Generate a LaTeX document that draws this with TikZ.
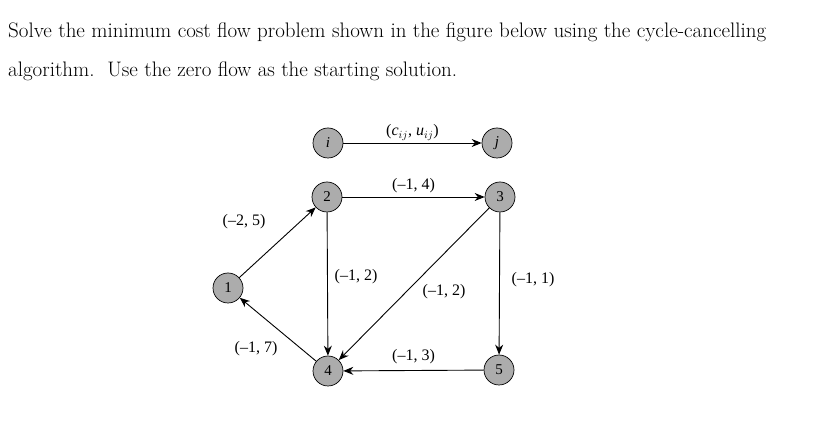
\documentclass[tikz,border=0pt]{standalone}
\usepackage{fontspec}
\newfontfamily\lab{Liberation Serif}
\usetikzlibrary{arrows.meta}
\begin{document}
\begin{tikzpicture}[x=1pt,y=-1pt,
  nd/.style={circle,draw=black,line width=0.7pt,fill=gray!65,minimum size=30pt,inner sep=0pt,font=\lab\fontsize{15}{15}\selectfont},
  ar/.style={-{Stealth[length=10pt,width=8pt]},line width=0.9pt},
  lb/.style={font=\lab\fontsize{16}{16}\selectfont,inner sep=1pt}]
\useasboundingbox (0,0) rectangle (823,427);
\node[anchor=base west,inner sep=0pt,font=\fontsize{21}{24}\selectfont] (t1) at (8,38) {Solve the minimum cost flow problem shown in the figure below using the cycle-cancelling};
\node[anchor=base west,inner sep=0pt,font=\fontsize{21}{24}\selectfont] (t2) at (8,77) {algorithm.\ \ Use the zero flow as the starting solution.};
\node[nd] (i) at (328,143) {\textit{i}};
\node[nd] (j) at (497,143) {\textit{j}};
\node[nd] (n2) at (327,197) {2};
\node[nd] (n3) at (500,197) {3};
\node[nd] (n1) at (228,288) {1};
\node[nd] (n4) at (328,371) {4};
\node[nd] (n5) at (499,370) {5};
\draw[ar] (i) -- node[lb,above=1pt]{(\textit{c}$_{ij}$, \textit{u}$_{ij}$)} (j);
\draw[ar] (n2) -- node[lb,above=3pt]{(\textendash1, 4)} (n3);
\draw[ar] (n1) -- (n2);
\node[lb] (l12) at (244,222) {(\textendash2, 5)};
\draw[ar] (n2) -- (n4);
\node[lb] (l24) at (356,277) {(\textendash1, 2)};
\draw[ar] (n3) -- (n4);
\node[lb] (l34) at (444,292) {(\textendash1, 2)};
\draw[ar] (n3) -- (n5);
\node[lb] (l35) at (533,280) {(\textendash1, 1)};
\draw[ar] (n5) -- node[lb,above=5pt]{(\textendash1, 3)} (n4);
\draw[ar] (n4) -- (n1);
\node[lb] (l41) at (256,349) {(\textendash1, 7)};
\end{tikzpicture}
\end{document}
